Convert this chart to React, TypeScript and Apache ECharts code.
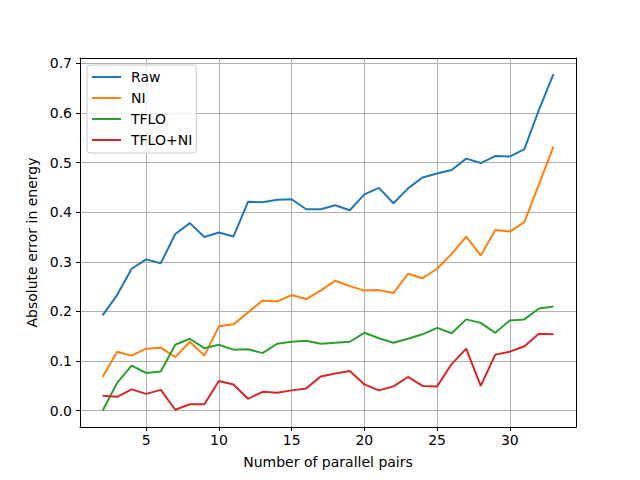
import React, { useEffect, useRef } from "react";
import * as echarts from "echarts";

const pairs = [2, 3, 4, 5, 6, 7, 8, 9, 10, 11, 12, 13, 14, 15, 16, 17, 18, 19, 20, 21, 22, 23, 24, 25, 26, 27, 28, 29, 30, 31, 32, 33];
const raw = [0.192, 0.233, 0.286, 0.305, 0.297, 0.356, 0.378, 0.350, 0.359, 0.351, 0.421, 0.420, 0.425, 0.426, 0.406, 0.406, 0.414, 0.404, 0.436, 0.449, 0.418, 0.448, 0.470, 0.478, 0.485, 0.508, 0.499, 0.513, 0.512, 0.527, 0.606, 0.678];
const ni = [0.068, 0.119, 0.111, 0.125, 0.127, 0.108, 0.139, 0.111, 0.170, 0.174, 0.198, 0.222, 0.220, 0.233, 0.225, 0.242, 0.262, 0.251, 0.242, 0.243, 0.237, 0.276, 0.267, 0.286, 0.316, 0.351, 0.313, 0.364, 0.361, 0.380, 0.456, 0.532];
const tflo = [0.000, 0.056, 0.091, 0.076, 0.079, 0.133, 0.145, 0.126, 0.133, 0.123, 0.124, 0.116, 0.135, 0.139, 0.141, 0.135, 0.137, 0.139, 0.157, 0.146, 0.137, 0.145, 0.154, 0.167, 0.156, 0.184, 0.177, 0.157, 0.182, 0.184, 0.206, 0.210];
const tfloNi = [0.030, 0.028, 0.043, 0.034, 0.042, 0.002, 0.013, 0.013, 0.060, 0.053, 0.024, 0.038, 0.036, 0.041, 0.045, 0.069, 0.075, 0.080, 0.053, 0.041, 0.049, 0.068, 0.050, 0.049, 0.094, 0.125, 0.050, 0.113, 0.119, 0.130, 0.155, 0.154];

const seriesNames = ["Raw", "NI", "TFLO", "TFLO+NI"];
const seriesValues = [raw, ni, tflo, tfloNi];
const colors = ["#1f77b4", "#ff7f0e", "#2ca02c", "#d62728"];
const xTicks = [5, 10, 15, 20, 25, 30];
const yTicks = [0, 0.1, 0.2, 0.3, 0.4, 0.5, 0.6, 0.7];
const xTitle = "Number of parallel pairs";
const yTitle = "Absolute error in energy";

const FONT = "DejaVu Sans";

export default function App() {
  const ref = useRef<HTMLDivElement>(null);
  useEffect(() => {
    if (!ref.current) return;
    const chart = echarts.init(ref.current, undefined, { renderer: "svg" });
    const xMin = 0.45, xMax = 34.55, yMin = -0.0328, yMax = 0.7107;
    const frameAxis = { show: true, lineStyle: { color: "#000", width: 1 } };
    chart.setOption({
      animation: false,
      backgroundColor: "#fff",
      textStyle: { fontFamily: FONT },
      grid: { left: 80, right: 64, top: 58, bottom: 53, containLabel: false },
      legend: {
        orient: "vertical",
        left: 87,
        top: 65,
        padding: [5, 4, 6, 5],
        itemGap: 7,
        itemWidth: 29,
        itemHeight: 2,
        icon: "rect",
        backgroundColor: "rgba(255,255,255,0.8)",
        borderColor: "#cccccc",
        borderWidth: 1,
        borderRadius: 3,
        textStyle: { fontFamily: FONT, fontSize: 14, color: "#000", padding: [0, 0, 0, 5] },
        data: seriesNames,
      },
      xAxis: [
        {
          type: "value",
          min: xMin,
          max: xMax,
          name: xTitle,
          nameLocation: "middle",
          nameGap: 28,
          nameTextStyle: { fontFamily: FONT, fontSize: 14, color: "#000" },
          axisLine: { ...frameAxis, onZero: false },
          axisTick: { show: true, inside: false, length: 4, lineStyle: { color: "#000" }, customValues: xTicks },
          axisLabel: { show: true, customValues: xTicks, margin: 6, fontFamily: FONT, fontSize: 14, color: "#000", formatter: (v: number) => String(v) },
          splitLine: { show: true, lineStyle: { color: "#b0b0b0", width: 1 } },
        },
        {
          type: "value",
          position: "top",
          min: xMin,
          max: xMax,
          axisLine: { ...frameAxis, onZero: false },
          axisTick: { show: false },
          axisLabel: { show: false },
          splitLine: { show: false },
        },
      ],
      yAxis: [
        {
          type: "value",
          min: yMin,
          max: yMax,
          name: yTitle,
          nameLocation: "middle",
          nameGap: 38,
          nameTextStyle: { fontFamily: FONT, fontSize: 14, color: "#000" },
          axisLine: { ...frameAxis, onZero: false },
          axisTick: { show: true, inside: false, length: 4, lineStyle: { color: "#000" }, customValues: yTicks },
          axisLabel: { show: true, customValues: yTicks, margin: 8, fontFamily: FONT, fontSize: 14, color: "#000", formatter: (v: number) => v.toFixed(1) },
          splitLine: { show: true, lineStyle: { color: "#b0b0b0", width: 1 } },
        },
        {
          type: "value",
          position: "right",
          min: yMin,
          max: yMax,
          axisLine: { ...frameAxis, onZero: false },
          axisTick: { show: false },
          axisLabel: { show: false },
          splitLine: { show: false },
        },
      ],
      series: seriesNames.map((name, si) => ({
        name,
        type: "line",
        xAxisIndex: 0,
        yAxisIndex: 0,
        symbol: "none",
        showSymbol: false,
        color: colors[si],
        lineStyle: { color: colors[si], width: 2 },
        data: pairs.map((p, i) => [p, seriesValues[si][i]]),
        z: 3,
      })),
    });
    return () => chart.dispose();
  }, []);
  return <div ref={ref} style={{ width: 640, height: 480, position: "absolute", left: 0, top: 0 }} />;
}
